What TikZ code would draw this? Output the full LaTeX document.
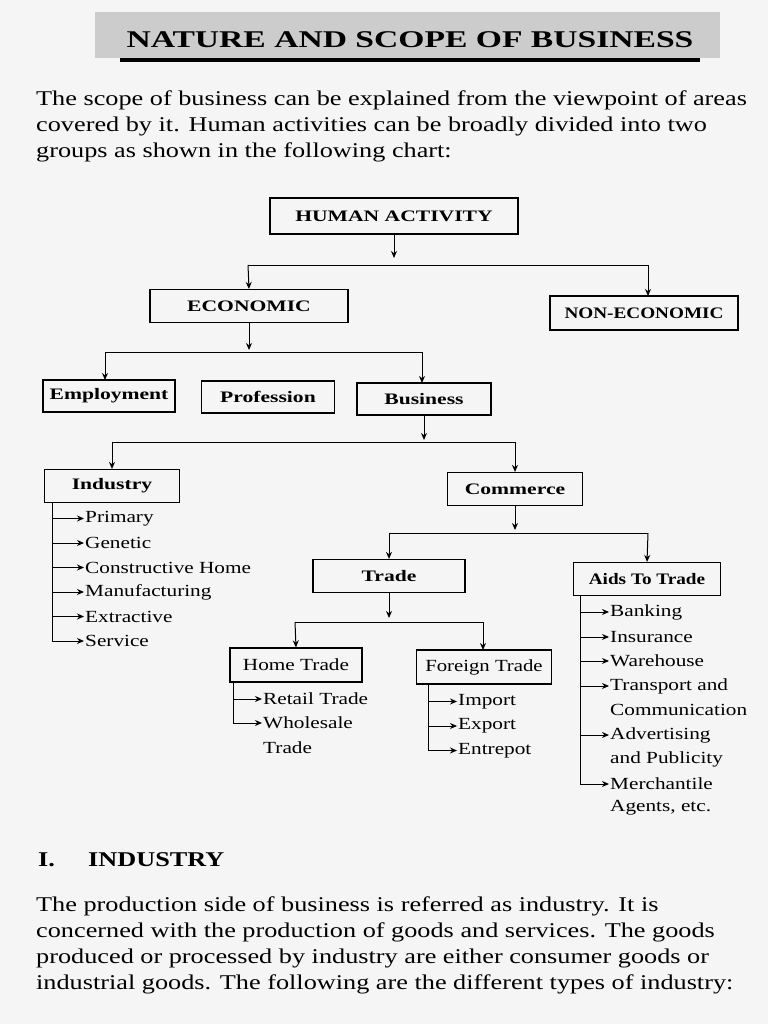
\documentclass[tikz,border=0pt]{standalone}
\usepackage{fontspec}
\usepackage{graphicx}
\setmainfont{Liberation Serif}
\usetikzlibrary{arrows.meta}
\newcommand{\sxb}[1]{\scalebox{1.35}[1]{#1}}
\newcommand{\sxi}[1]{\scalebox{1.25}[1]{#1}}
\begin{document}
\begin{tikzpicture}[x=1pt,y=-1pt,
  box/.style={draw,line width=1.2pt,font=\bfseries\fontsize{16}{18}\selectfont,inner sep=0pt},
  arr/.style={-{Stealth[length=7pt,width=6pt]},line width=1pt},
  ln/.style={line width=1pt},
  item/.style={anchor=west,font=\fontsize{17}{19}\selectfont,inner sep=1pt},
  body/.style={anchor=west,font=\fontsize{21}{23}\selectfont,inner sep=0pt}]
\fill[gray!8] (0,0) rectangle (768,1024);
\useasboundingbox (0,0) rectangle (768,1024);
% title
\fill[gray!40] (95,12) rectangle (720,58);
\node[font=\bfseries\fontsize{24}{26}\selectfont] (title) at (410,40) {\scalebox{1.4}[1]{NATURE AND SCOPE OF BUSINESS}};
\fill[black] (120,58) rectangle (700,62);
% intro
\node[body] (p1) at (36,100) {\sxi{The scope of business can be explained from the viewpoint of areas}};
\node[body] (p2) at (36,126) {\sxi{covered by it. Human activities can be broadly divided into two}};
\node[body] (p3) at (36,152) {\sxi{groups as shown in the following chart:}};
% boxes
\node[box,minimum width=248,minimum height=36] (ha) at (394,216) {\sxb{HUMAN ACTIVITY}};
\node[box,minimum width=198,minimum height=33] (eco) at (249,306) {\sxb{ECONOMIC}};
\node[box,minimum width=188,minimum height=34] (neco) at (644,313) {\scalebox{1.2}[1]{NON-ECONOMIC}};
\node[box,minimum width=132,minimum height=32] (emp) at (109,396) {\sxb{Employment}};
\node[box,minimum width=133,minimum height=32] (prof) at (268,397) {\sxb{Profession}};
\node[box,minimum width=134,minimum height=32] (bus) at (424,399) {\sxb{Business}};
\node[box,minimum width=135,minimum height=33] (ind) at (112,486) {\sxb{Industry}};
\node[box,minimum width=135,minimum height=33] (com) at (515,489) {\sxb{Commerce}};
\node[box,minimum width=152,minimum height=33] (tr) at (389,576) {\sxb{Trade}};
\node[box,minimum width=147,minimum height=33] (aid) at (647,579) {\scalebox{1.2}[1]{Aids To Trade}};
\node[box,font=\fontsize{17}{19}\selectfont,minimum width=132,minimum height=34] (home) at (296,665) {\scalebox{1.25}[1]{Home Trade}};
\node[box,font=\fontsize{17}{19}\selectfont,minimum width=135,minimum height=34] (for) at (484,667) {\scalebox{1.22}[1]{Foreign Trade}};
% tree connectors
\draw[arr] (ha.south) -- (394,258);
\draw[ln] (248,265) -- (648,265);
\draw[arr] (248,265) -- (eco.north);
\draw[arr] (648,265) -- (648,296);
\draw[arr] (eco.south) -- (249,350);
\draw[ln] (105,352) -- (422,352);
\draw[arr] (105,352) -- (105,380);
\draw[arr] (422,352) -- (422,383);
\draw[arr] (bus.south) -- (424,440);
\draw[ln] (112,442) -- (515,442);
\draw[arr] (112,442) -- (ind.north);
\draw[arr] (515,442) -- (com.north);
\draw[arr] (com.south) -- (515,530);
\draw[ln] (389,533) -- (648,533);
\draw[arr] (389,533) -- (tr.north);
\draw[arr] (648,533) -- (aid.north);
\draw[arr] (tr.south) -- (389,618);
\draw[ln] (295,622) -- (483,622);
\draw[arr] (295,622) -- (home.north);
\draw[arr] (483,622) -- (483,650);
% lists
\foreach \t [count=\i] in {Primary,Genetic,Constructive Home,Manufacturing,Extractive,Service}{
  \node[item] (ind\i) at (84,494+24.5*\i) {\sxi{\t}};
  \draw[arr] (52,494+24.5*\i) -- (ind\i.west);}
\draw[ln] (52,503) -- (52,641);
\node[item] (h1) at (262,699) {\sxi{Retail Trade}};
\node[item] (h2) at (262,723) {\sxi{Wholesale}};
\node[item] (h3) at (262,748) {\sxi{Trade}};
\draw[ln] (233,682) -- (233,723);
\draw[arr] (233,699) -- (h1.west);
\draw[arr] (233,723) -- (h2.west);
\foreach \t [count=\i] in {Import,Export,Entrepot}{
  \node[item] (f\i) at (457,677+24.5*\i) {\sxi{\t}};
  \draw[arr] (428,677+24.5*\i) -- (f\i.west);}
\draw[ln] (428,684) -- (428,751);
\node[item] (a1) at (609,612) {\sxi{Banking}};
\node[item] (a2) at (609,637) {\sxi{Insurance}};
\node[item] (a3) at (609,661) {\sxi{Warehouse}};
\node[item] (a4) at (609,686) {\sxi{Transport and}};
\node[item] (a4b) at (609,710) {\sxi{Communication}};
\node[item] (a5) at (609,735) {\sxi{Advertising}};
\node[item] (a5b) at (609,759) {\sxi{and Publicity}};
\node[item] (a6) at (609,784) {\sxi{Merchantile}};
\node[item] (a6b) at (609,808) {\sxi{Agents, etc.}};
\draw[ln] (580,596) -- (580,784);
\foreach \n/\y in {a1/612,a2/637,a3/661,a4/686,a5/735,a6/784}
  \draw[arr] (580,\y) -- (\n.west);
% section
\node[body,font=\bfseries\fontsize{21}{23}\selectfont] (sn) at (38,860) {\sxi{I.}};
\node[body,font=\bfseries\fontsize{21}{23}\selectfont] (st) at (88,860) {\sxi{INDUSTRY}};
\node[body] (r1) at (36,906) {\sxi{The production side of business is referred as industry. It is}};
\node[body] (r2) at (36,932) {\sxi{concerned with the production of goods and services. The goods}};
\node[body] (r3) at (36,958) {\sxi{produced or processed by industry are either consumer goods or}};
\node[body] (r4) at (36,984) {\sxi{industrial goods. The following are the different types of industry:}};
\end{tikzpicture}
\end{document}
